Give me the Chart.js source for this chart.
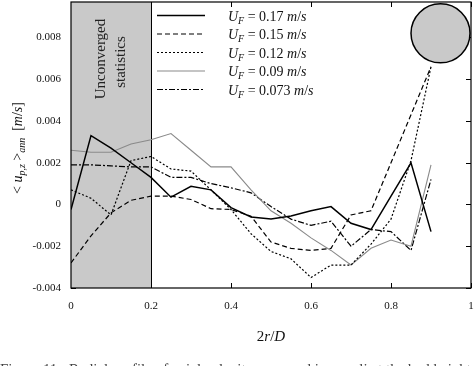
<!DOCTYPE html>
<html>
<head>
<meta charset="utf-8">
<script src="https://cdn.jsdelivr.net/npm/chart.js@4/dist/chart.umd.min.js"></script>
<style>
  html, body { margin: 0; padding: 0; background: #fff; }
  #wrap { width: 474px; height: 366px; position: relative; }
</style>
</head>
<body>
<div id="wrap"><canvas id="myChart"></canvas></div>
<script>
// radial positions 2r/D
const xs = [0, 0.05, 0.1, 0.15, 0.2, 0.25, 0.3, 0.35, 0.4, 0.45, 0.5, 0.55, 0.6, 0.65, 0.7, 0.75, 0.8, 0.85, 0.9];

// <u_p,z>_ann [m/s] per fluid velocity
const u017 = [-0.00024, 0.0033, 0.0027, 0.002, 0.0013, 0.00035, 0.00087, 0.0007, -0.00015, -0.0006, -0.0007, -0.00055, -0.0003, -0.0001, -0.0009, -0.0012, 0.0004, 0.002, -0.0013];
const u015 = [-0.0028, -0.0015, -0.0004, 0.0002, 0.0004, 0.0004, 0.00024, -0.0002, -0.00024, -0.00056, -0.0018, -0.0021, -0.0022, -0.0021, -0.0005, -0.0003, 0.002, 0.0043, 0.0066];
const u012 = [0.0007, 0.0003, -0.0005, 0.0021, 0.0023, 0.0017, 0.0016, 0.0007, -0.00024, -0.0014, -0.00225, -0.0026, -0.0035, -0.0029, -0.0029, -0.0019, -0.0007, 0.0021, 0.0066];
const u009 = [0.0026, 0.0025, 0.0025, 0.0029, 0.0031, 0.0034, 0.0026, 0.0018, 0.0018, 0.0007, -0.0003, -0.0009, -0.0016, -0.0022, -0.0029, -0.0021, -0.0017, -0.002, 0.0019];
const u0073 = [0.0019, 0.0019, 0.00185, 0.0018, 0.0018, 0.0013, 0.0013, 0.001, 0.0008, 0.00056, -0.0001, -0.0007, -0.001, -0.0008, -0.002, -0.0012, -0.0013, -0.0022, 0.0012];

const seriesLabels = ['0.17', '0.15', '0.12', '0.09', '0.073'];
const yTicks = [-0.004, -0.002, 0, 0.002, 0.004, 0.006, 0.008];
const xTicks = [0, 0.2, 0.4, 0.6, 0.8, 1];
const shadeEnd = 0.2;

const SERIF = '"Liberation Serif", "DejaVu Serif", serif';

function pts(arr) { return xs.map((x, i) => ({ x: x, y: arr[i] })); }

const styles = [
  { data: u017,  color: '#000', width: 1.5, dash: [] },
  { data: u015,  color: '#000', width: 1.2, dash: [5, 3] },
  { data: u012,  color: '#000', width: 1.2, dash: [2, 2] },
  { data: u009,  color: '#8a8a8a', width: 1.1, dash: [] },
  { data: u0073, color: '#000', width: 1.2, dash: [6, 2, 2, 2] }
];

// draws a row of text pieces (font/size/baseline shift)
function drawParts(ctx, parts, x, y, align) {
  let total = 0;
  parts.forEach(p => { ctx.font = p.f; p.w = ctx.measureText(p.t).width; total += p.w; });
  let cx = align === 'center' ? x - total / 2 : x;
  ctx.textAlign = 'left';
  ctx.textBaseline = 'alphabetic';
  parts.forEach(p => {
    ctx.font = p.f;
    ctx.fillText(p.t, cx, y + (p.dy || 0));
    cx += p.w;
  });
}

const decor = {
  id: 'decor',
  beforeDatasetsDraw(chart) {
    const { ctx, chartArea: a, scales: { x, y } } = chart;
    ctx.save();
    // inward ticks on all sides
    ctx.strokeStyle = '#000';
    ctx.lineWidth = 1;
    ctx.beginPath();
    xTicks.forEach(v => {
      const px = Math.round(x.getPixelForValue(v)) + 0.5;
      ctx.moveTo(px, a.bottom); ctx.lineTo(px, a.bottom - 5);
      ctx.moveTo(px, a.top); ctx.lineTo(px, a.top + 5);
    });
    yTicks.forEach(v => {
      const py = Math.round(y.getPixelForValue(v)) + 0.5;
      ctx.moveTo(a.left, py); ctx.lineTo(a.left + 5, py);
      ctx.moveTo(a.right, py); ctx.lineTo(a.right - 5, py);
    });
    ctx.stroke();
    // unconverged band
    const x0 = x.getPixelForValue(0), x1 = x.getPixelForValue(shadeEnd);
    ctx.fillStyle = '#c9c9c9';
    ctx.fillRect(x0, a.top, x1 - x0, a.bottom - a.top);
    ctx.beginPath();
    ctx.moveTo(Math.round(x1) + 0.5, a.top);
    ctx.lineTo(Math.round(x1) + 0.5, a.bottom);
    ctx.stroke();
    // band label
    ctx.fillStyle = '#222';
    ctx.font = '15px ' + SERIF;
    ctx.textAlign = 'center';
    ctx.textBaseline = 'middle';
    ctx.save();
    ctx.translate(101, 59);
    ctx.rotate(-Math.PI / 2);
    ctx.fillText('Unconverged', 0, 0);
    ctx.restore();
    ctx.save();
    ctx.translate(121, 62);
    ctx.rotate(-Math.PI / 2);
    ctx.fillText('statistics', 0, 0);
    ctx.restore();
    ctx.restore();
  },
  afterDatasetsDraw(chart) {
    const { ctx, chartArea: a } = chart;
    ctx.save();
    // frame
    ctx.strokeStyle = '#000';
    ctx.lineWidth = 1.2;
    ctx.setLineDash([]);
    ctx.strokeRect(a.left, a.top, a.right - a.left, a.bottom - a.top);

    // legend
    const rows = [15.5, 34, 52.5, 71, 89.5];
    styles.forEach((s, i) => {
      const yy = rows[i];
      ctx.strokeStyle = s.color;
      ctx.lineWidth = s.width;
      ctx.setLineDash(s.dash);
      ctx.beginPath();
      ctx.moveTo(157, yy);
      ctx.lineTo(205, yy);
      ctx.stroke();
      ctx.setLineDash([]);
      ctx.fillStyle = '#111';
      drawParts(ctx, [
        { t: 'U', f: 'italic 14px ' + SERIF },
        { t: 'F', f: 'italic 10px ' + SERIF, dy: 3 },
        { t: ' = ' + seriesLabels[i] + ' ', f: '14px ' + SERIF },
        { t: 'm', f: 'italic 14px ' + SERIF },
        { t: '/', f: '14px ' + SERIF },
        { t: 's', f: 'italic 14px ' + SERIF }
      ], 228, yy + 5, 'left');
    });

    // particle sketch
    ctx.beginPath();
    ctx.arc(440.5, 33.3, 29.5, 0, Math.PI * 2);
    ctx.fillStyle = '#c9c9c9';
    ctx.fill();
    ctx.lineWidth = 1.5;
    ctx.strokeStyle = '#000';
    ctx.stroke();

    // axis titles
    ctx.fillStyle = '#111';
    ctx.save();
    ctx.translate(22, 148);
    ctx.rotate(-Math.PI / 2);
    drawParts(ctx, [
      { t: '< ', f: '14px ' + SERIF },
      { t: 'u', f: 'italic 14px ' + SERIF },
      { t: 'p,z', f: 'italic 10px ' + SERIF, dy: 3 },
      { t: ' >', f: '14px ' + SERIF },
      { t: 'ann', f: 'italic 10px ' + SERIF, dy: 3 },
      { t: '  [', f: '14px ' + SERIF },
      { t: 'm', f: 'italic 14px ' + SERIF },
      { t: '/', f: '14px ' + SERIF },
      { t: 's', f: 'italic 14px ' + SERIF },
      { t: ']', f: '14px ' + SERIF }
    ], 0, 0, 'center');
    ctx.restore();
    drawParts(ctx, [
      { t: '2', f: '15px ' + SERIF },
      { t: 'r', f: 'italic 15px ' + SERIF },
      { t: '/', f: '15px ' + SERIF },
      { t: 'D', f: 'italic 15px ' + SERIF }
    ], 271, 341, 'center');

    // cut-off caption at bottom
    ctx.fillStyle = '#444';
    ctx.font = '15px ' + SERIF;
    ctx.textAlign = 'left';
    ctx.textBaseline = 'alphabetic';
    ctx.fillText('Figure 11:  Radial profile of axial velocity averaged in annuli at the bed height', 0, 374);
    ctx.restore();
  }
};

const ctx = document.getElementById('myChart').getContext('2d');
const myChart = new Chart(ctx, {
  type: 'line',
  data: {
    datasets: styles.map((s, i) => ({
      label: 'U_F = ' + seriesLabels[i] + ' m/s',
      data: pts(s.data),
      borderColor: s.color,
      borderWidth: s.width,
      borderDash: s.dash,
      pointRadius: 0,
      tension: 0,
      fill: false
    }))
  },
  options: {
    responsive: true,
    maintainAspectRatio: false,
    animation: false,
    layout: { padding: { left: 0, right: 3, top: 2, bottom: 0 } },
    plugins: { legend: { display: false }, tooltip: { enabled: false } },
    scales: {
      x: {
        type: 'linear',
        min: 0,
        max: 1,
        afterBuildTicks: axis => { axis.ticks = xTicks.map(v => ({ value: v })); },
        afterFit: axis => { axis.height = 78; axis.paddingLeft = 0; axis.paddingRight = 0; },
        grid: { drawOnChartArea: false, drawTicks: false },
        border: { display: false },
        ticks: {
          padding: 12,
          color: '#111',
          font: { family: SERIF, size: 11 },
          maxRotation: 0,
          callback: v => v === 0 ? '0' : (v === 1 ? '1' : v.toFixed(1))
        }
      },
      y: {
        min: -0.004,
        max: 0.0097,
        afterBuildTicks: axis => { axis.ticks = yTicks.map(v => ({ value: v })); },
        afterFit: axis => { axis.width = 71; axis.paddingTop = 0; axis.paddingBottom = 0; },
        grid: { drawOnChartArea: false, drawTicks: false },
        border: { display: false },
        ticks: {
          padding: 10,
          color: '#111',
          font: { family: SERIF, size: 11 },
          callback: v => v === 0 ? '0' : v.toFixed(3)
        }
      }
    }
  },
  plugins: [decor]
});
</script>
</body>
</html>
